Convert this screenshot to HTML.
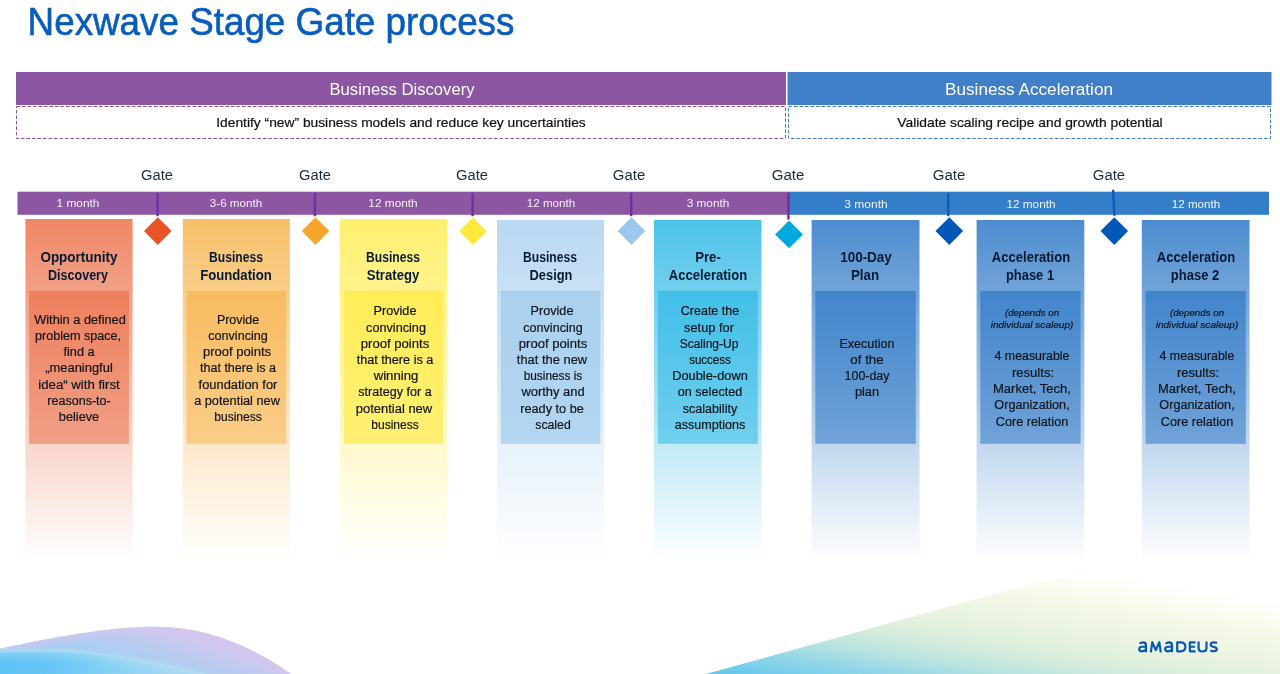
<!DOCTYPE html>
<html><head><meta charset="utf-8"><title>Nexwave Stage Gate process</title>
<style>
html,body{margin:0;padding:0;background:#fff}
body{width:1280px;height:674px;position:relative;overflow:hidden;font-family:"Liberation Sans", sans-serif}
.t{position:absolute;white-space:nowrap;transform-origin:50% 50%}
</style></head><body>
<svg width="1280" height="674" viewBox="0 0 1280 674" style="position:absolute;left:0;top:0">
<defs>
<linearGradient id="g0" x1="0" y1="0" x2="0" y2="1"><stop offset="0" stop-color="rgb(232, 84, 37)" stop-opacity="0.7"/><stop offset="1" stop-color="rgb(232, 84, 37)" stop-opacity="0"/></linearGradient>
<linearGradient id="g1" x1="0" y1="0" x2="0" y2="1"><stop offset="0" stop-color="rgb(245, 165, 42)" stop-opacity="0.7"/><stop offset="1" stop-color="rgb(245, 165, 42)" stop-opacity="0"/></linearGradient>
<linearGradient id="g2" x1="0" y1="0" x2="0" y2="1"><stop offset="0" stop-color="rgb(255, 233, 48)" stop-opacity="0.7"/><stop offset="1" stop-color="rgb(255, 233, 48)" stop-opacity="0"/></linearGradient>
<linearGradient id="g3" x1="0" y1="0" x2="0" y2="1"><stop offset="0" stop-color="rgb(155, 200, 236)" stop-opacity="0.7"/><stop offset="1" stop-color="rgb(155, 200, 236)" stop-opacity="0"/></linearGradient>
<linearGradient id="g4" x1="0" y1="0" x2="0" y2="1"><stop offset="0" stop-color="rgb(0, 169, 224)" stop-opacity="0.7"/><stop offset="1" stop-color="rgb(0, 169, 224)" stop-opacity="0"/></linearGradient>
<linearGradient id="g5" x1="0" y1="0" x2="0" y2="1"><stop offset="0" stop-color="rgb(0, 91, 187)" stop-opacity="0.7"/><stop offset="1" stop-color="rgb(0, 91, 187)" stop-opacity="0"/></linearGradient>
<linearGradient id="g6" x1="0" y1="0" x2="0" y2="1"><stop offset="0" stop-color="rgb(0, 91, 187)" stop-opacity="0.7"/><stop offset="1" stop-color="rgb(0, 91, 187)" stop-opacity="0"/></linearGradient>
<linearGradient id="g7" x1="0" y1="0" x2="0" y2="1"><stop offset="0" stop-color="rgb(0, 91, 187)" stop-opacity="0.7"/><stop offset="1" stop-color="rgb(0, 91, 187)" stop-opacity="0"/></linearGradient>
<linearGradient id="gr" gradientUnits="userSpaceOnUse" x1="706" y1="674" x2="735.3" y2="493.8">
<stop offset="0.0000" stop-color="rgb(98, 197, 236)"/>
<stop offset="0.0919" stop-color="rgb(125, 208, 235)"/>
<stop offset="0.1676" stop-color="rgb(150, 215, 230)"/>
<stop offset="0.2703" stop-color="rgb(185, 228, 224)"/>
<stop offset="0.3243" stop-color="rgb(200, 232, 222)"/>
<stop offset="0.3784" stop-color="rgb(213, 236, 221)"/>
<stop offset="0.4324" stop-color="rgb(222, 239, 222)"/>
<stop offset="0.4865" stop-color="rgb(228, 241, 223)"/>
<stop offset="0.5297" stop-color="rgb(232, 243, 224)"/>
<stop offset="0.5784" stop-color="rgb(236, 245, 226)"/>
<stop offset="0.6270" stop-color="rgb(240, 246, 228)"/>
<stop offset="0.6757" stop-color="rgb(243, 248, 230)"/>
<stop offset="0.7189" stop-color="rgb(246, 250, 234)"/>
<stop offset="0.8000" stop-color="rgb(251, 253, 243)"/>
<stop offset="0.8973" stop-color="rgb(255, 255, 255)"/>
<stop offset="1.0000" stop-color="rgb(255, 255, 255)"/>
</linearGradient>
<linearGradient id="gl" gradientUnits="userSpaceOnUse" x1="0" y1="674" x2="30" y2="579"><stop offset="0" stop-color="rgb(120,205,246)"/><stop offset="0.30" stop-color="rgb(160,207,243)"/><stop offset="0.55" stop-color="rgb(173,206,242)"/><stop offset="0.70" stop-color="rgb(184,204,240)"/><stop offset="0.85" stop-color="rgb(201,201,239)"/><stop offset="1" stop-color="rgb(213,198,238)"/></linearGradient>
<linearGradient id="gl2" gradientUnits="userSpaceOnUse" x1="0" y1="674" x2="185" y2="643"><stop offset="0" stop-color="rgb(92,194,246)"/><stop offset="0.3" stop-color="rgb(104,198,246)"/><stop offset="0.6" stop-color="rgb(135,209,245)"/><stop offset="0.85" stop-color="rgb(160,214,243)"/><stop offset="1" stop-color="rgb(174,215,242)"/></linearGradient>
<clipPath id="cw"><path d="M0,648.8 C55,637 110,626.8 155,626.8 C205,626.8 250,645 291,674 L0,674 Z"/></clipPath>
<filter id="bl" x="-5%" y="-30%" width="110%" height="160%"><feGaussianBlur stdDeviation="1.1"/></filter>
<filter id="bl3" x="-5%" y="-30%" width="110%" height="160%"><feGaussianBlur stdDeviation="3"/></filter>
</defs>
<path d="M705.8,674 L1000,592.6 C1040,581.5 1075,573 1110,570 L1280,585 L1280,674 Z" fill="url(#gr)"/>
<path d="M0,648.8 C55,637 110,626.8 155,626.8 C205,626.8 250,645 291,674 L0,674 Z" fill="url(#gl)"/>
<g clip-path="url(#cw)"><path d="M0,648.8 C55,637 110,626.8 155,626.8 C205,626.8 250,645 291,674" fill="none" stroke="rgb(214,196,238)" stroke-opacity="0.8" stroke-width="9" filter="url(#bl3)"/>
<path d="M-5,651 C30,650.5 60,650.4 75,651.6 C112,654.8 155,663 206,675 L-5,675 Z" fill="url(#gl2)" filter="url(#bl)"/>
<path d="M-5,654 C30,653.5 60,653.4 75,654.6 C112,657.8 155,666 206,678" fill="none" stroke="rgb(165,218,244)" stroke-width="7" stroke-opacity="0.6" filter="url(#bl3)"/>
<path d="M-5,651 C30,650.5 60,650.4 75,651.6 C112,654.8 155,663 206,675" fill="none" stroke="rgb(186,226,242)" stroke-width="2.4" stroke-opacity="0.8" filter="url(#bl)"/></g>
<rect x="16" y="72" width="770" height="33" fill="#8c56a3"/>
<rect x="787.5" y="72" width="484" height="33" fill="#417ec8"/>
<rect x="16.5" y="106.5" width="769" height="32" fill="none" stroke="#8c56a3" stroke-width="1" stroke-dasharray="3.6 1.9"/>
<rect x="788.5" y="106.5" width="482" height="32" fill="none" stroke="#417ec8" stroke-width="1" stroke-dasharray="3.6 1.9"/>
<rect x="17.5" y="191.7" width="771" height="23.1" fill="#8c56a3"/>
<rect x="788.2" y="191.7" width="480.8" height="23.1" fill="#347dc8"/>
<line x1="157.6" y1="193" x2="157.6" y2="216.2" stroke="#7030a0" stroke-width="2.4"/>
<line x1="314.9" y1="193" x2="314.9" y2="216.2" stroke="#7030a0" stroke-width="2.4"/>
<line x1="472.6" y1="193" x2="472.6" y2="216.2" stroke="#7030a0" stroke-width="2.4"/>
<line x1="631.2" y1="193" x2="631.2" y2="216.2" stroke="#7030a0" stroke-width="2.4"/>
<line x1="788.4" y1="192.5" x2="788.4" y2="219.6" stroke="#6f2f9f" stroke-width="2.4"/>
<line x1="948.2" y1="193" x2="948.2" y2="216.2" stroke="#0c5cc0" stroke-width="2.4"/>
<line x1="1113.1" y1="189.7" x2="1114.4" y2="215.8" stroke="#0c5cc0" stroke-width="2.4"/>
<rect x="25.4" y="219.0" width="107.2" height="343.0" fill="url(#g0)"/>
<rect x="29.1" y="290.8" width="99.8" height="153.0" fill="rgb(232, 84, 37)" fill-opacity="0.42"/>
<rect x="182.8" y="219.0" width="107.1" height="343.0" fill="url(#g1)"/>
<rect x="186.5" y="290.8" width="99.7" height="153.0" fill="rgb(245, 165, 42)" fill-opacity="0.42"/>
<rect x="340.0" y="219.0" width="107.0" height="343.0" fill="url(#g2)"/>
<rect x="343.7" y="290.8" width="99.6" height="153.0" fill="rgb(255, 233, 48)" fill-opacity="0.57"/>
<rect x="497.0" y="220.0" width="107.1" height="342.0" fill="url(#g3)"/>
<rect x="500.7" y="290.8" width="99.7" height="153.0" fill="rgb(155, 200, 236)" fill-opacity="0.68"/>
<rect x="654.0" y="220.0" width="107.5" height="342.0" fill="url(#g4)"/>
<rect x="657.7" y="290.8" width="100.1" height="153.0" fill="rgb(0, 169, 224)" fill-opacity="0.42"/>
<rect x="811.6" y="220.0" width="107.9" height="342.0" fill="url(#g5)"/>
<rect x="815.3" y="290.8" width="100.5" height="153.0" fill="rgb(0, 91, 187)" fill-opacity="0.42"/>
<rect x="976.6" y="220.0" width="107.7" height="342.0" fill="url(#g6)"/>
<rect x="980.3" y="290.8" width="100.3" height="153.0" fill="rgb(0, 91, 187)" fill-opacity="0.42"/>
<rect x="1141.8" y="220.0" width="107.7" height="342.0" fill="url(#g7)"/>
<rect x="1145.5" y="290.8" width="100.3" height="153.0" fill="rgb(0, 91, 187)" fill-opacity="0.42"/>
<path d="M157.8,217.29999999999998 L171.60000000000002,231.1 L157.8,244.9 L144.0,231.1 Z" fill="#e85425"/>
<path d="M315.5,217.29999999999998 L329.3,231.1 L315.5,244.9 L301.7,231.1 Z" fill="#f6a62b"/>
<path d="M473.0,217.39999999999998 L486.8,231.2 L473.0,245.0 L459.2,231.2 Z" fill="#ffe83c"/>
<path d="M631.5,217.29999999999998 L645.3,231.1 L631.5,244.9 L617.7,231.1 Z" fill="#9bc8ec"/>
<path d="M789.0,220.5 L802.9,234.4 L789.0,248.3 L775.1,234.4 Z" fill="#00a9e0"/>
<path d="M949.3,217.29999999999998 L963.0999999999999,231.1 L949.3,244.9 L935.5,231.1 Z" fill="#0057b8"/>
<path d="M1114.3,217.29999999999998 L1128.1,231.1 L1114.3,244.9 L1100.5,231.1 Z" fill="#0057b8"/>
</svg>
<div id="txt" style="position:absolute;left:0;top:0;width:1280px;height:674px;will-change:transform">
<div class="t" id="t0" style="left:270.63px;top:-4px;font-size:39.1px;line-height:51px;color:#075dbd;-webkit-text-stroke:0.6px #075dbd;transform:translateX(-50%) scaleX(0.9417);">Nexwave Stage Gate process</div>
<div class="t" id="t1" style="left:401.59px;top:79px;font-size:15.8px;line-height:21px;color:#fff;transform:translateX(-50%) scaleX(1.0520);">Business Discovery</div>
<div class="t" id="t2" style="left:1029.01px;top:79px;font-size:15.8px;line-height:21px;color:#fff;transform:translateX(-50%) scaleX(1.0867);">Business Acceleration</div>
<div class="t" id="t3" style="left:400.99px;top:114px;font-size:13.0px;line-height:17px;color:#111;-webkit-text-stroke:0.2px #111;transform:translateX(-50%) scaleX(1.0607);">Identify “new” business models and reduce key uncertainties</div>
<div class="t" id="t4" style="left:1030.03px;top:114px;font-size:13.0px;line-height:17px;color:#111;-webkit-text-stroke:0.2px #111;transform:translateX(-50%) scaleX(1.0622);">Validate scaling recipe and growth potential</div>
<div class="t" id="t5" style="left:156.80px;top:166px;font-size:14.0px;line-height:19px;color:#1c2b3a;transform:translateX(-50%) scaleX(1.0545);">Gate</div>
<div class="t" id="t6" style="left:315.09px;top:166px;font-size:14.0px;line-height:19px;color:#1c2b3a;transform:translateX(-50%) scaleX(1.0484);">Gate</div>
<div class="t" id="t7" style="left:472.07px;top:166px;font-size:14.0px;line-height:19px;color:#1c2b3a;transform:translateX(-50%) scaleX(1.0499);">Gate</div>
<div class="t" id="t8" style="left:629.47px;top:166px;font-size:14.0px;line-height:19px;color:#1c2b3a;transform:translateX(-50%) scaleX(1.0664);">Gate</div>
<div class="t" id="t9" style="left:788.22px;top:166px;font-size:14.0px;line-height:19px;color:#1c2b3a;transform:translateX(-50%) scaleX(1.0747);">Gate</div>
<div class="t" id="t10" style="left:948.55px;top:166px;font-size:14.0px;line-height:19px;color:#1c2b3a;transform:translateX(-50%) scaleX(1.0762);">Gate</div>
<div class="t" id="t11" style="left:1109.27px;top:166px;font-size:14.0px;line-height:19px;color:#1c2b3a;transform:translateX(-50%) scaleX(1.0626);">Gate</div>
<div class="t" id="t12" style="left:78.26px;top:196px;font-size:10.8px;line-height:15px;color:#f6f0f9;transform:translateX(-50%) scaleX(1.1005);">1 month</div>
<div class="t" id="t13" style="left:236.14px;top:196px;font-size:10.8px;line-height:15px;color:#f6f0f9;transform:translateX(-50%) scaleX(1.0754);">3-6 month</div>
<div class="t" id="t14" style="left:393.42px;top:196px;font-size:10.8px;line-height:15px;color:#f6f0f9;transform:translateX(-50%) scaleX(1.0944);">12 month</div>
<div class="t" id="t15" style="left:551.01px;top:196px;font-size:10.8px;line-height:15px;color:#f6f0f9;transform:translateX(-50%) scaleX(1.0824);">12 month</div>
<div class="t" id="t16" style="left:708.22px;top:196px;font-size:10.8px;line-height:15px;color:#f6f0f9;transform:translateX(-50%) scaleX(1.0949);">3 month</div>
<div class="t" id="t17" style="left:865.61px;top:197px;font-size:10.8px;line-height:15px;color:#f0f5fc;transform:translateX(-50%) scaleX(1.1090);">3 month</div>
<div class="t" id="t18" style="left:1030.65px;top:197px;font-size:10.8px;line-height:15px;color:#f0f5fc;transform:translateX(-50%) scaleX(1.0901);">12 month</div>
<div class="t" id="t19" style="left:1195.61px;top:197px;font-size:10.8px;line-height:15px;color:#f0f5fc;transform:translateX(-50%) scaleX(1.0734);">12 month</div>
<div class="t" id="t20" style="left:78.64px;top:248px;font-size:14.5px;line-height:19px;color:#061a33;font-weight:700;transform:translateX(-50%) scaleX(0.9310);">Opportunity</div>
<div class="t" id="t21" style="left:78.47px;top:266px;font-size:14.5px;line-height:19px;color:#061a33;font-weight:700;transform:translateX(-50%) scaleX(0.8645);">Discovery</div>
<div class="t" id="t22" style="left:79.71px;top:312px;font-size:12.0px;line-height:16px;color:#12151a;-webkit-text-stroke:0.2px #12151a;transform:translateX(-50%) scaleX(1.0645);">Within a defined</div>
<div class="t" id="t23" style="left:78.39px;top:328px;font-size:12.0px;line-height:16px;color:#12151a;-webkit-text-stroke:0.2px #12151a;transform:translateX(-50%) scaleX(1.0495);">problem space,</div>
<div class="t" id="t24" style="left:79.03px;top:344px;font-size:12.0px;line-height:16px;color:#12151a;-webkit-text-stroke:0.2px #12151a;transform:translateX(-50%) scaleX(1.0567);">find a</div>
<div class="t" id="t25" style="left:78.73px;top:360px;font-size:12.0px;line-height:16px;color:#12151a;-webkit-text-stroke:0.2px #12151a;transform:translateX(-50%) scaleX(1.0773);">„meaningful</div>
<div class="t" id="t26" style="left:78.70px;top:377px;font-size:12.0px;line-height:16px;color:#12151a;-webkit-text-stroke:0.2px #12151a;transform:translateX(-50%) scaleX(1.1002);">idea“ with first</div>
<div class="t" id="t27" style="left:78.94px;top:393px;font-size:12.0px;line-height:16px;color:#12151a;-webkit-text-stroke:0.2px #12151a;transform:translateX(-50%) scaleX(1.0459);">reasons-to-</div>
<div class="t" id="t28" style="left:78.65px;top:409px;font-size:12.0px;line-height:16px;color:#12151a;-webkit-text-stroke:0.2px #12151a;transform:translateX(-50%) scaleX(1.0610);">believe</div>
<div class="t" id="t29" style="left:235.88px;top:248px;font-size:14.5px;line-height:19px;color:#061a33;font-weight:700;transform:translateX(-50%) scaleX(0.8340);">Business</div>
<div class="t" id="t30" style="left:236.19px;top:266px;font-size:14.5px;line-height:19px;color:#061a33;font-weight:700;transform:translateX(-50%) scaleX(0.9066);">Foundation</div>
<div class="t" id="t31" style="left:237.93px;top:312px;font-size:12.0px;line-height:16px;color:#12151a;-webkit-text-stroke:0.2px #12151a;transform:translateX(-50%) scaleX(1.0378);">Provide</div>
<div class="t" id="t32" style="left:238.27px;top:328px;font-size:12.0px;line-height:16px;color:#12151a;-webkit-text-stroke:0.2px #12151a;transform:translateX(-50%) scaleX(1.0493);">convincing</div>
<div class="t" id="t33" style="left:237.48px;top:344px;font-size:12.0px;line-height:16px;color:#12151a;-webkit-text-stroke:0.2px #12151a;transform:translateX(-50%) scaleX(1.0857);">proof points</div>
<div class="t" id="t34" style="left:238.16px;top:360px;font-size:12.0px;line-height:16px;color:#12151a;-webkit-text-stroke:0.2px #12151a;transform:translateX(-50%) scaleX(1.0467);">that there is a</div>
<div class="t" id="t35" style="left:238.30px;top:377px;font-size:12.0px;line-height:16px;color:#12151a;-webkit-text-stroke:0.2px #12151a;transform:translateX(-50%) scaleX(1.0736);">foundation for</div>
<div class="t" id="t36" style="left:237.49px;top:393px;font-size:12.0px;line-height:16px;color:#12151a;-webkit-text-stroke:0.2px #12151a;transform:translateX(-50%) scaleX(1.0612);">a potential new</div>
<div class="t" id="t37" style="left:237.75px;top:409px;font-size:12.0px;line-height:16px;color:#12151a;-webkit-text-stroke:0.2px #12151a;transform:translateX(-50%) scaleX(1.0013);">business</div>
<div class="t" id="t38" style="left:393.36px;top:248px;font-size:14.5px;line-height:19px;color:#061a33;font-weight:700;transform:translateX(-50%) scaleX(0.8339);">Business</div>
<div class="t" id="t39" style="left:392.99px;top:266px;font-size:14.5px;line-height:19px;color:#061a33;font-weight:700;transform:translateX(-50%) scaleX(0.9050);">Strategy</div>
<div class="t" id="t40" style="left:394.92px;top:303px;font-size:12.0px;line-height:16px;color:#12151a;-webkit-text-stroke:0.2px #12151a;transform:translateX(-50%) scaleX(1.0518);">Provide</div>
<div class="t" id="t41" style="left:395.70px;top:320px;font-size:12.0px;line-height:16px;color:#12151a;-webkit-text-stroke:0.2px #12151a;transform:translateX(-50%) scaleX(1.0559);">convincing</div>
<div class="t" id="t42" style="left:395.09px;top:336px;font-size:12.0px;line-height:16px;color:#12151a;-webkit-text-stroke:0.2px #12151a;transform:translateX(-50%) scaleX(1.0905);">proof points</div>
<div class="t" id="t43" style="left:395.34px;top:352px;font-size:12.0px;line-height:16px;color:#12151a;-webkit-text-stroke:0.2px #12151a;transform:translateX(-50%) scaleX(1.0553);">that there is a</div>
<div class="t" id="t44" style="left:395.92px;top:368px;font-size:12.0px;line-height:16px;color:#12151a;-webkit-text-stroke:0.2px #12151a;transform:translateX(-50%) scaleX(1.0986);">winning</div>
<div class="t" id="t45" style="left:395.17px;top:384px;font-size:12.0px;line-height:16px;color:#12151a;-webkit-text-stroke:0.2px #12151a;transform:translateX(-50%) scaleX(1.0488);">strategy for a</div>
<div class="t" id="t46" style="left:394.35px;top:401px;font-size:12.0px;line-height:16px;color:#12151a;-webkit-text-stroke:0.2px #12151a;transform:translateX(-50%) scaleX(1.0795);">potential new</div>
<div class="t" id="t47" style="left:395.49px;top:417px;font-size:12.0px;line-height:16px;color:#12151a;-webkit-text-stroke:0.2px #12151a;transform:translateX(-50%) scaleX(0.9996);">business</div>
<div class="t" id="t48" style="left:550.22px;top:248px;font-size:14.5px;line-height:19px;color:#061a33;font-weight:700;transform:translateX(-50%) scaleX(0.8372);">Business</div>
<div class="t" id="t49" style="left:550.52px;top:266px;font-size:14.5px;line-height:19px;color:#061a33;font-weight:700;transform:translateX(-50%) scaleX(0.8871);">Design</div>
<div class="t" id="t50" style="left:552.38px;top:303px;font-size:12.0px;line-height:16px;color:#12151a;-webkit-text-stroke:0.2px #12151a;transform:translateX(-50%) scaleX(1.0537);">Provide</div>
<div class="t" id="t51" style="left:552.80px;top:320px;font-size:12.0px;line-height:16px;color:#12151a;-webkit-text-stroke:0.2px #12151a;transform:translateX(-50%) scaleX(1.0466);">convincing</div>
<div class="t" id="t52" style="left:552.50px;top:336px;font-size:12.0px;line-height:16px;color:#12151a;-webkit-text-stroke:0.2px #12151a;transform:translateX(-50%) scaleX(1.0901);">proof points</div>
<div class="t" id="t53" style="left:552.12px;top:352px;font-size:12.0px;line-height:16px;color:#12151a;-webkit-text-stroke:0.2px #12151a;transform:translateX(-50%) scaleX(1.0745);">that the new</div>
<div class="t" id="t54" style="left:552.67px;top:368px;font-size:12.0px;line-height:16px;color:#12151a;-webkit-text-stroke:0.2px #12151a;transform:translateX(-50%) scaleX(0.9873);">business is</div>
<div class="t" id="t55" style="left:552.82px;top:384px;font-size:12.0px;line-height:16px;color:#12151a;-webkit-text-stroke:0.2px #12151a;transform:translateX(-50%) scaleX(1.0767);">worthy and</div>
<div class="t" id="t56" style="left:552.35px;top:401px;font-size:12.0px;line-height:16px;color:#12151a;-webkit-text-stroke:0.2px #12151a;transform:translateX(-50%) scaleX(1.0610);">ready to be</div>
<div class="t" id="t57" style="left:552.50px;top:417px;font-size:12.0px;line-height:16px;color:#12151a;-webkit-text-stroke:0.2px #12151a;transform:translateX(-50%) scaleX(1.0214);">scaled</div>
<div class="t" id="t58" style="left:708.13px;top:248px;font-size:14.5px;line-height:19px;color:#061a33;font-weight:700;transform:translateX(-50%) scaleX(0.9123);">Pre-</div>
<div class="t" id="t59" style="left:707.99px;top:266px;font-size:14.5px;line-height:19px;color:#061a33;font-weight:700;transform:translateX(-50%) scaleX(0.8994);">Acceleration</div>
<div class="t" id="t60" style="left:710.00px;top:303px;font-size:12.0px;line-height:16px;color:#12151a;-webkit-text-stroke:0.2px #12151a;transform:translateX(-50%) scaleX(1.0413);">Create the</div>
<div class="t" id="t61" style="left:709.46px;top:320px;font-size:12.0px;line-height:16px;color:#12151a;-webkit-text-stroke:0.2px #12151a;transform:translateX(-50%) scaleX(1.0693);">setup for</div>
<div class="t" id="t62" style="left:709.39px;top:336px;font-size:12.0px;line-height:16px;color:#12151a;-webkit-text-stroke:0.2px #12151a;transform:translateX(-50%) scaleX(1.0003);">Scaling-Up</div>
<div class="t" id="t63" style="left:709.53px;top:352px;font-size:12.0px;line-height:16px;color:#12151a;-webkit-text-stroke:0.2px #12151a;transform:translateX(-50%) scaleX(0.9589);">success</div>
<div class="t" id="t64" style="left:710.10px;top:368px;font-size:12.0px;line-height:16px;color:#12151a;-webkit-text-stroke:0.2px #12151a;transform:translateX(-50%) scaleX(1.0695);">Double-down</div>
<div class="t" id="t65" style="left:710.03px;top:384px;font-size:12.0px;line-height:16px;color:#12151a;-webkit-text-stroke:0.2px #12151a;transform:translateX(-50%) scaleX(1.0479);">on selected</div>
<div class="t" id="t66" style="left:710.03px;top:401px;font-size:12.0px;line-height:16px;color:#12151a;-webkit-text-stroke:0.2px #12151a;transform:translateX(-50%) scaleX(1.0462);">scalability</div>
<div class="t" id="t67" style="left:710.01px;top:417px;font-size:12.0px;line-height:16px;color:#12151a;-webkit-text-stroke:0.2px #12151a;transform:translateX(-50%) scaleX(1.0467);">assumptions</div>
<div class="t" id="t68" style="left:865.56px;top:248px;font-size:14.5px;line-height:19px;color:#061a33;font-weight:700;transform:translateX(-50%) scaleX(0.9297);">100-Day</div>
<div class="t" id="t69" style="left:865.32px;top:266px;font-size:14.5px;line-height:19px;color:#061a33;font-weight:700;transform:translateX(-50%) scaleX(0.9204);">Plan</div>
<div class="t" id="t70" style="left:867.22px;top:336px;font-size:12.0px;line-height:16px;color:#12151a;-webkit-text-stroke:0.2px #12151a;transform:translateX(-50%) scaleX(1.0428);">Execution</div>
<div class="t" id="t71" style="left:867.21px;top:352px;font-size:12.0px;line-height:16px;color:#12151a;-webkit-text-stroke:0.2px #12151a;transform:translateX(-50%) scaleX(1.1091);">of the</div>
<div class="t" id="t72" style="left:867.18px;top:368px;font-size:12.0px;line-height:16px;color:#12151a;-webkit-text-stroke:0.2px #12151a;transform:translateX(-50%) scaleX(1.0326);">100-day</div>
<div class="t" id="t73" style="left:867.45px;top:384px;font-size:12.0px;line-height:16px;color:#12151a;-webkit-text-stroke:0.2px #12151a;transform:translateX(-50%) scaleX(1.0646);">plan</div>
<div class="t" id="t74" style="left:1030.53px;top:248px;font-size:14.5px;line-height:19px;color:#061a33;font-weight:700;transform:translateX(-50%) scaleX(0.8998);">Acceleration</div>
<div class="t" id="t75" style="left:1029.94px;top:266px;font-size:14.5px;line-height:19px;color:#061a33;font-weight:700;transform:translateX(-50%) scaleX(0.8917);">phase 1</div>
<div class="t" id="t76" style="left:1032.14px;top:306px;font-size:9.6px;line-height:13px;color:#12151a;font-style:italic;-webkit-text-stroke:0.2px #12151a;transform:translateX(-50%) scaleX(1.0153);">(depends on</div>
<div class="t" id="t77" style="left:1031.93px;top:318px;font-size:9.6px;line-height:13px;color:#12151a;font-style:italic;-webkit-text-stroke:0.2px #12151a;transform:translateX(-50%) scaleX(1.0470);">individual scaleup)</div>
<div class="t" id="t78" style="left:1031.92px;top:348px;font-size:12.0px;line-height:16px;color:#12151a;-webkit-text-stroke:0.2px #12151a;transform:translateX(-50%) scaleX(1.0310);">4 measurable</div>
<div class="t" id="t79" style="left:1033.17px;top:365px;font-size:12.0px;line-height:16px;color:#12151a;-webkit-text-stroke:0.2px #12151a;transform:translateX(-50%) scaleX(1.0893);">results:</div>
<div class="t" id="t80" style="left:1032.44px;top:381px;font-size:12.0px;line-height:16px;color:#12151a;-webkit-text-stroke:0.2px #12151a;transform:translateX(-50%) scaleX(1.0858);">Market, Tech,</div>
<div class="t" id="t81" style="left:1032.35px;top:397px;font-size:12.0px;line-height:16px;color:#12151a;-webkit-text-stroke:0.2px #12151a;transform:translateX(-50%) scaleX(1.0549);">Organization,</div>
<div class="t" id="t82" style="left:1031.87px;top:414px;font-size:12.0px;line-height:16px;color:#12151a;-webkit-text-stroke:0.2px #12151a;transform:translateX(-50%) scaleX(1.0551);">Core relation</div>
<div class="t" id="t83" style="left:1195.53px;top:248px;font-size:14.5px;line-height:19px;color:#061a33;font-weight:700;transform:translateX(-50%) scaleX(0.8998);">Acceleration</div>
<div class="t" id="t84" style="left:1195.47px;top:266px;font-size:14.5px;line-height:19px;color:#061a33;font-weight:700;transform:translateX(-50%) scaleX(0.8977);">phase 2</div>
<div class="t" id="t85" style="left:1197.14px;top:306px;font-size:9.6px;line-height:13px;color:#12151a;font-style:italic;-webkit-text-stroke:0.2px #12151a;transform:translateX(-50%) scaleX(1.0154);">(depends on</div>
<div class="t" id="t86" style="left:1196.93px;top:318px;font-size:9.6px;line-height:13px;color:#12151a;font-style:italic;-webkit-text-stroke:0.2px #12151a;transform:translateX(-50%) scaleX(1.0464);">individual scaleup)</div>
<div class="t" id="t87" style="left:1196.91px;top:348px;font-size:12.0px;line-height:16px;color:#12151a;-webkit-text-stroke:0.2px #12151a;transform:translateX(-50%) scaleX(1.0312);">4 measurable</div>
<div class="t" id="t88" style="left:1198.17px;top:365px;font-size:12.0px;line-height:16px;color:#12151a;-webkit-text-stroke:0.2px #12151a;transform:translateX(-50%) scaleX(1.0891);">results:</div>
<div class="t" id="t89" style="left:1197.43px;top:381px;font-size:12.0px;line-height:16px;color:#12151a;-webkit-text-stroke:0.2px #12151a;transform:translateX(-50%) scaleX(1.0859);">Market, Tech,</div>
<div class="t" id="t90" style="left:1197.35px;top:397px;font-size:12.0px;line-height:16px;color:#12151a;-webkit-text-stroke:0.2px #12151a;transform:translateX(-50%) scaleX(1.0549);">Organization,</div>
<div class="t" id="t91" style="left:1196.87px;top:414px;font-size:12.0px;line-height:16px;color:#12151a;-webkit-text-stroke:0.2px #12151a;transform:translateX(-50%) scaleX(1.0552);">Core relation</div>
</div>
<svg width="1280" height="674" viewBox="0 0 1280 674" style="position:absolute;left:0;top:0"><path d="M1139.6000000000001,643.6999999999999 C1140.8,642.5 1142.0,642.4 1143.1000000000001,642.4 C1145.1000000000001,642.4 1146.0,643.6 1146.0,645.4 L1146.0,652.3 M1146.0,646.75 L1142.3,646.75 C1140.1000000000001,646.75 1139.2,647.65 1139.2,649.05 C1139.2,650.65 1140.2,651.3 1142.0,651.3 C1143.6000000000001,651.3 1145.0,650.5999999999999 1146.0,649.5 M1150.8,652.3 L1152.3,642.1999999999999 L1155.8,650.0999999999999 L1159.3,642.1999999999999 L1160.8,652.3 M1165.6000000000001,643.6999999999999 C1166.8,642.5 1168.0,642.4 1169.1000000000001,642.4 C1171.1000000000001,642.4 1172.0,643.6 1172.0,645.4 L1172.0,652.3 M1172.0,646.75 L1168.3,646.75 C1166.1000000000001,646.75 1165.2,647.65 1165.2,649.05 C1165.2,650.65 1166.2,651.3 1168.0,651.3 C1169.6000000000001,651.3 1171.0,650.5999999999999 1172.0,649.5 M1177.2,642.4 L1177.2,651.3 L1180.6000000000001,651.3 C1184.0,651.3 1185.4,649.5999999999999 1185.4,646.85 C1185.4,644.1 1184.0,642.4 1180.6000000000001,642.4 Z M1195.55,642.4 L1189.85,642.4 L1189.85,651.3 L1195.55,651.3 M1189.85,646.75 L1194.9499999999998,646.75 M1198.6,641.4 L1198.6,647.9 C1198.6,650.3 1200.0,651.3 1202.55,651.3 C1205.1,651.3 1206.5,650.3 1206.5,647.9 L1206.5,641.4 M1217.1,643.0 C1216.0,642.5 1215.0,642.4 1213.8999999999999,642.4 C1211.8999999999999,642.4 1210.6999999999998,643.3 1210.6999999999998,644.6999999999999 C1210.6999999999998,646.0 1211.6,646.5 1213.6999999999998,646.9 C1215.8999999999999,647.3 1216.8,647.9 1216.8,649.1 C1216.8,650.5 1215.6,651.3 1213.6,651.3 C1212.3999999999999,651.3 1211.1999999999998,651.0 1210.3,650.4" fill="none" stroke="#0a58b6" stroke-width="2.2" stroke-linejoin="round" stroke-linecap="butt"/></svg>
</body></html>
